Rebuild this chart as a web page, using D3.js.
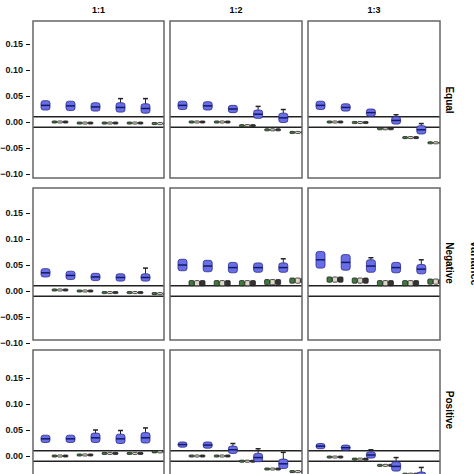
<!DOCTYPE html>
<html><head><meta charset="utf-8">
<script src="https://cdn.jsdelivr.net/npm/d3@7"></script>
<style>body{margin:0;background:#fff}svg{font-family:"Liberation Sans",Arial,sans-serif;font-weight:bold}</style>
</head><body><svg id="c" width="474" height="474"></svg>
<script>
const cols = ["1:1","1:2","1:3"];
const rows = ["Equal","Negative","Positive"];
const yTicks = [0.15,0.10,0.05,0.00,-0.05,-0.10];
const blueMed = [
 [[0.032,0.031,0.029,0.028,0.026],[0.032,0.031,0.025,0.015,0.008],[0.032,0.028,0.018,0.003,-0.015]],
 [[0.035,0.030,0.027,0.026,0.026],[0.050,0.048,0.045,0.045,0.045],[0.060,0.055,0.048,0.045,0.042]],
 [[0.033,0.033,0.035,0.033,0.035],[0.022,0.021,0.012,-0.003,-0.015],[0.019,0.016,0.002,-0.020,-0.040]]
];
const blueHalf = [
 [[0.009,0.009,0.008,0.009,0.009],[0.008,0.008,0.007,0.008,0.009],[0.008,0.007,0.007,0.007,0.008]],
 [[0.008,0.008,0.007,0.007,0.007],[0.011,0.011,0.010,0.009,0.009],[0.016,0.015,0.012,0.010,0.009]],
 [[0.007,0.007,0.009,0.009,0.010],[0.005,0.006,0.007,0.008,0.009],[0.005,0.005,0.006,0.009,0.009]]
];
const blueWhiskTop = [
 [[0,0,0,0.045,0.045],[0,0,0,0.03,0.024],[0,0,0,0.014,-0.003]],
 [[0,0,0,0,0.044],[0,0,0,0,0.062],[0,0,0.064,0,0.06]],
 [[0,0,0.05,0.049,0.054],[0,0,0.024,0.014,0.007],[0,0,0.012,-0.003,-0.022]]
];
const otherMed = [
 [[0.000,-0.002,-0.002,-0.002,-0.003],[0.000,0.000,-0.007,-0.015,-0.020],[0.000,-0.001,-0.013,-0.030,-0.040]],
 [[0.002,0.000,-0.003,-0.003,-0.005],[0.015,0.015,0.015,0.017,0.020],[0.022,0.020,0.015,0.015,0.018]],
 [[0.000,0.002,0.005,0.005,0.008],[0.000,0.000,-0.010,-0.025,-0.030],[-0.002,-0.006,-0.018,-0.035,-0.050]]
];
const groups = [0,1,2,3,4];

const svg = d3.select("#c");
const colX = [[33,164],[170,302],[308,440]];
const rowY = [[21,178],[188,340],[350,504]];
const yZero = [122,291,456];
const pxPer = 520;

rows.forEach((rname,ri)=>{
  cols.forEach((cname,ci)=>{
    const [x0,x1]=colX[ci],[y0,y1]=rowY[ri];
    const y = d3.scaleLinear().domain([0,0.1]).range([yZero[ri], yZero[ri]-0.1*pxPer]);
    const x = d3.scaleBand().domain(groups).range([x0+4,x1-2]).paddingInner(0);
    const g = svg.append("g");
    g.append("clipPath").attr("id",`cp${ri}${ci}`).append("rect").attr("x",x0).attr("y",y0).attr("width",x1-x0).attr("height",y1-y0);
    const inner = g.append("g").attr("clip-path",`url(#cp${ri}${ci})`);
    [0.01,-0.01].forEach(v=>inner.append("line").attr("x1",x0).attr("x2",x1).attr("y1",y(v)).attr("y2",y(v)).attr("stroke","#222").attr("stroke-width",1.5));
    groups.forEach(k=>{
      const bx = x(k)+4, bw=9;
      const m=blueMed[ri][ci][k], h=blueHalf[ri][ci][k], wt=blueWhiskTop[ri][ci][k];
      if(wt){
        inner.append("line").attr("x1",bx+bw/2).attr("x2",bx+bw/2).attr("y1",y(wt)).attr("y2",y(m+h)).attr("stroke","#222");
        inner.append("line").attr("x1",bx+2).attr("x2",bx+bw-2).attr("y1",y(wt)).attr("y2",y(wt)).attr("stroke","#222").attr("stroke-width",1.5);
      }
      inner.append("rect").attr("x",bx).attr("y",y(m+h)).attr("width",bw).attr("height",y(m-h)-y(m+h)).attr("rx",2.5)
        .attr("fill","#6a6ee6").attr("stroke","#2a2a8a").attr("stroke-width",0.8);
      inner.append("line").attr("x1",bx).attr("x2",bx+bw).attr("y1",y(m)).attr("y2",y(m)).attr("stroke","#111a66").attr("stroke-width",1.5);
      const o=otherMed[ri][ci][k];
      const sw=5, fills=["#3e7a3e","#ddd8c8","#333"];
      [0,1,2].forEach(j=>{
        const sx=bx+bw+2+j*(sw+0.5);
        const sh = ri===1&&ci>0 ? 0.005 : 0.002;
        inner.append("rect").attr("x",sx).attr("y",y(o+sh)).attr("width",sw).attr("height",y(o-sh)-y(o+sh)).attr("rx",1)
          .attr("fill",fills[j]).attr("stroke","#222").attr("stroke-width",0.8);
      });
    });
    g.append("rect").attr("x",x0).attr("y",y0).attr("width",x1-x0).attr("height",y1-y0).attr("fill","none").attr("stroke","#666").attr("stroke-width",1.5);
    if(ci===0){
      const ax=d3.axisLeft(y).tickValues(yTicks.filter(t=>y(t)>y0+5&&y(t)<474)).tickFormat(d3.format(".2f")).tickSize(4);
      const a=svg.append("g").attr("transform",`translate(${x0-3},0)`).call(ax);
      a.select(".domain").remove();
      a.selectAll("text").attr("font-size",9).attr("font-weight","bold").attr("fill","#111");
      a.selectAll("line").attr("stroke","#111");
    }
    if(ri===0) svg.append("text").attr("x",(x0+x1)/2).attr("y",13).attr("text-anchor","middle").attr("font-size",9).text(cname);
  });
  svg.append("text").attr("transform",`translate(446,${ri===0?100:ri===1?263:410}) rotate(90)`).attr("text-anchor","middle").attr("font-size",10).text(rname);
});
svg.append("text").attr("transform",`translate(471,263) rotate(90)`).attr("text-anchor","middle").attr("font-size",11).text("Variance");
</script></body></html>
